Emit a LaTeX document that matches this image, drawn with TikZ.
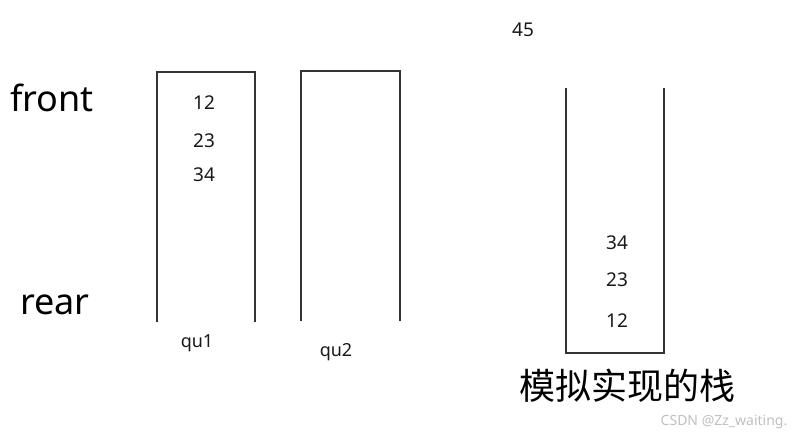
\documentclass[tikz,border=0pt]{standalone}
\usepackage{fontspec}
\setmainfont{Noto Sans}
\newfontfamily\cjk{Noto Sans CJK SC}
\begin{document}
\begin{tikzpicture}[x=1pt,y=-1pt,
  wall/.style={draw=black!80,line width=1.6pt},
  num/.style={font=\fontsize{19}{21}\selectfont,text=black!90,inner sep=0pt},
  big/.style={font=\fontsize{36}{40}\selectfont,inner sep=0pt},
  lab/.style={font=\fontsize{18}{20}\selectfont,text=black!90,inner sep=0pt}]
\useasboundingbox (0,0) rectangle (792,436);
% queue 1
\coordinate (q1a) at (157,322);
\coordinate (q1b) at (157,72);
\coordinate (q1c) at (255,72);
\coordinate (q1d) at (255,322);
\draw[wall] (q1a) -- (q1b) -- (q1c) -- (q1d);
% queue 2
\coordinate (q2a) at (301,321);
\coordinate (q2b) at (301,71);
\coordinate (q2c) at (400,71);
\coordinate (q2d) at (400,321);
\draw[wall] (q2a) -- (q2b) -- (q2c) -- (q2d);
% stack
\coordinate (sa) at (566,88);
\coordinate (sb) at (566,353);
\coordinate (sc) at (664,353);
\coordinate (sd) at (664,88);
\draw[wall] (sa) -- (sb) -- (sc) -- (sd);
% labels
\node[big] (front) at (52,98) {front};
\node[big] (rear) at (55,305) {rear};
\node[num] (a12) at (204,103) {12};
\node[num] (a23) at (204,141) {23};
\node[num] (a34) at (204,175) {34};
\node[lab] (qu1) at (197,343) {qu1};
\node[lab] (qu2) at (336,352) {qu2};
\node[num] (n45) at (523,30) {45};
\node[num] (s34) at (617,243) {34};
\node[num] (s23) at (617,280) {23};
\node[num] (s12) at (617,321) {12};
\node[inner sep=0pt,font=\cjk\fontsize{36}{40}\selectfont] (title) at (627,386) {模拟实现的栈};
\node[inner sep=0pt,font=\fontsize{14}{15}\selectfont,text=black!25] (wm) at (724,422) {CSDN @Zz\_waiting.};
\end{tikzpicture}
\end{document}
